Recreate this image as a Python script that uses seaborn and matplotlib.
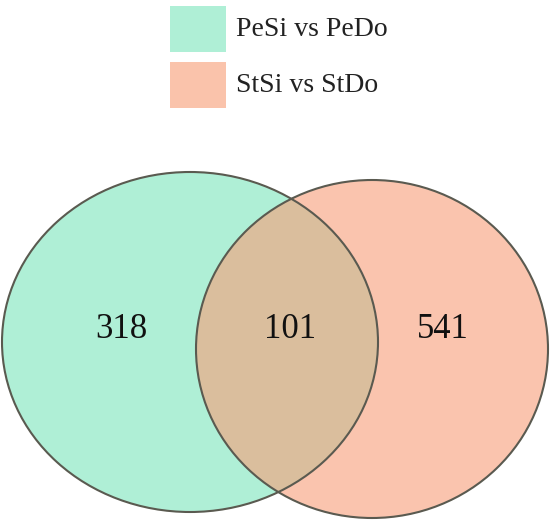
import matplotlib
matplotlib.use("Agg")
import matplotlib.pyplot as plt
from matplotlib.patches import Ellipse, Rectangle
import seaborn as sns

sets = ["PeSi vs PeDo", "StSi vs StDo"]
counts = [318, 101, 541]  # left only, both, right only
colors = ["#7fe6bd", "#f79e78"]

sns.set_theme(style="white")
plt.rcParams['font.family'] = ['Liberation Serif', 'DejaVu Serif']

fig = plt.figure(figsize=(5.5, 5.23), dpi=100)
ax = fig.add_axes([0, 0, 1, 1])
ax.set_xlim(0, 550)
ax.set_ylim(523, 0)
ax.axis("off")

ax.add_patch(Ellipse((190, 342), 376, 340, facecolor=colors[0], alpha=0.62, edgecolor="none"))
ax.add_patch(Ellipse((372, 349), 352, 338, facecolor=colors[1], alpha=0.6, edgecolor="none"))
ax.add_patch(Ellipse((190, 342), 376, 340, facecolor="none", edgecolor="#5a5a50", lw=1.5))
ax.add_patch(Ellipse((372, 349), 352, 338, facecolor="none", edgecolor="#5a5a50", lw=1.5))

for x, c in zip([121, 290, 443], counts):
    ax.text(x, 330, str(c), ha="center", va="center", fontsize=25, color="#111111")

for i, (lab, col) in enumerate(zip(sets, colors)):
    y = 6 + i * 56
    ax.add_patch(Rectangle((170, y), 56, 46, facecolor=col, alpha=0.62, edgecolor="none"))
    ax.text(236, y + 23, lab, ha="left", va="center", fontsize=20, color="#222222")

fig.savefig("out.png", dpi=100)
